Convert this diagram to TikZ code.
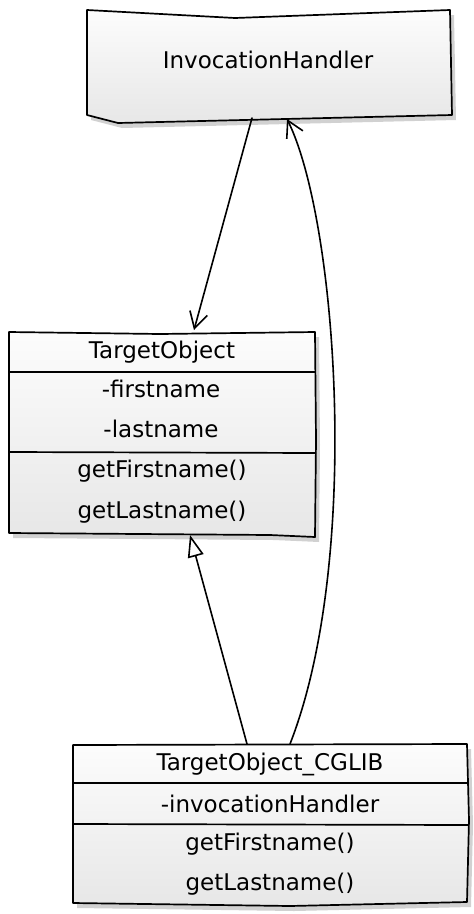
\documentclass[tikz,border=0pt]{standalone}
\usepackage{fontspec}
\setmainfont{DejaVu Sans}
\usetikzlibrary{arrows.meta,shadows}
\begin{document}
\begin{tikzpicture}[x=1pt,y=-1pt,
  boxshape/.style={draw=black, line width=1.7pt, line join=round,
    top color=gray!2, bottom color=gray!19,
    drop shadow={shadow xshift=4pt, shadow yshift=-5pt, opacity=0.18, fill=black}},
  sep/.style={draw=black, line width=1.7pt},
  lbl/.style={font=\fontsize{23}{25}\selectfont, inner sep=0pt, anchor=base},
  conn/.style={draw=black, line width=1.6pt, line cap=round}]
\useasboundingbox (0,0) rectangle (474,914);
% InvocationHandler
\path[boxshape] (87,10) -- (235,18) -- (450,10) -- (452,115) -- (118,123) -- (87,115) -- cycle;
\node[lbl] (ih) at (268,68) {InvocationHandler};
% TargetObject
\path[boxshape] (9,332) -- (160,334) -- (315,332) -- (316,440) -- (315,537) -- (270,535) -- (9,533) -- cycle;
\draw[sep] (9,372) -- (315,372);
\draw[sep] (9,452) -- (316,453);
\node[lbl] (toname) at (162,358) {TargetObject};
\node[lbl] (tofirst) at (161,397) {-firstname};
\node[lbl] (tolast) at (161,437) {-lastname};
\node[lbl] (togetf) at (162,477) {getFirstname()};
\node[lbl] (togetl) at (162,518) {getLastname()};
% TargetObject_CGLIB
\path[boxshape] (73,745) -- (467,744) -- (469,820) -- (467,902) -- (290,906) -- (73,903) -- cycle;
\draw[sep] (73,783) -- (467,783);
\draw[sep] (73,824) -- (468,825);
\node[lbl] (cgname) at (270,770) {TargetObject\_CGLIB};
\node[lbl] (cghandler) at (270,812) {-invocationHandler};
\node[lbl] (cggetf) at (270,850) {getFirstname()};
\node[lbl] (cggetl) at (270,890) {getLastname()};
% connector ends
\coordinate (ihA) at (252,118);
\coordinate (ihB) at (287,119);
\coordinate (toA) at (194,330);
\coordinate (toB) at (190,535);
\coordinate (cgA) at (247,744);
\coordinate (cgB) at (290,744);
% connectors
\draw[conn, -{Straight Barb[length=16pt,width=18pt]}] (ihA) -- (toA);
\draw[conn, -{Straight Barb[length=16pt,width=18pt]}] (cgB) .. controls (362,560) and (337,220) .. (ihB);
\draw[conn, -{Triangle[open,length=22pt,width=16pt,fill=white]}] (cgA) -- (toB);
\end{tikzpicture}
\end{document}
